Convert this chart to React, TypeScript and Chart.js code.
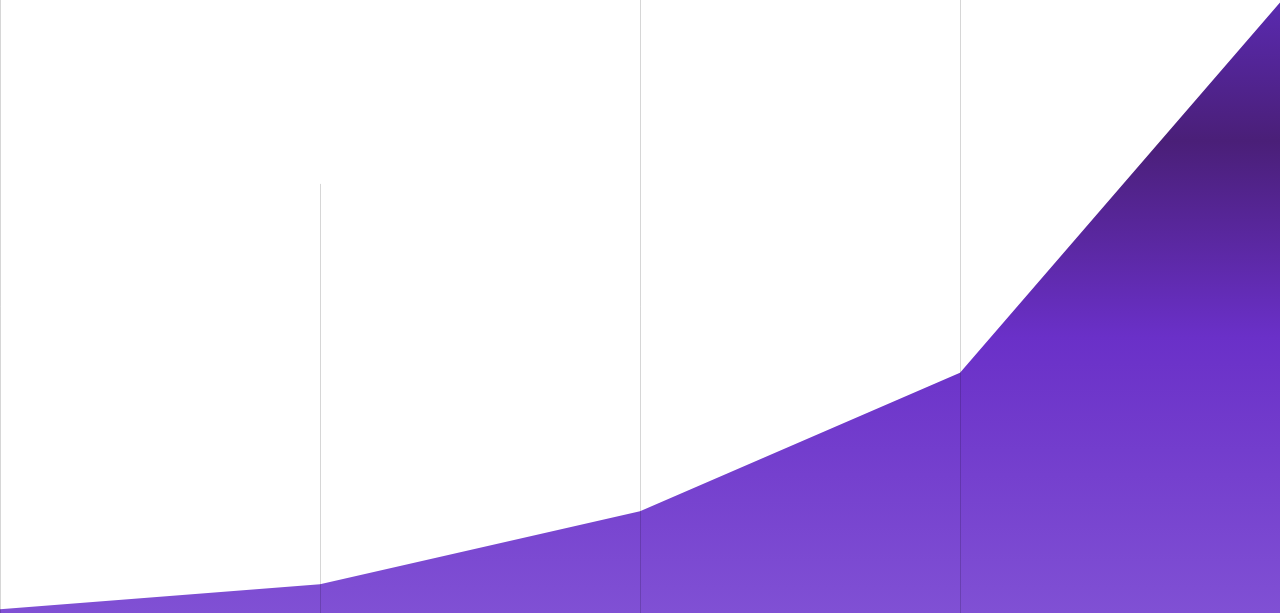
import React, { useEffect, useRef } from 'react';
import { Chart, registerables, ChartOptions, Plugin } from 'chart.js';

Chart.register(...registerables);

const labels = ['P1', 'P2', 'P3', 'P4', 'P5'];
const values = [0.6, 4.7, 16.6, 39.2, 99.6];
// value where each vertical guide line starts (the second one is shorter)
const guideTops = [100, 70, 100, 100, 100];

const guidePlugin: Plugin<'line'> = {
    id: 'guides',
    afterDatasetsDraw(chart) {
        const { ctx, scales } = chart;
        const x = scales.x;
        const y = scales.y;
        ctx.save();
        ctx.strokeStyle = 'rgba(0, 0, 0, 0.16)';
        ctx.lineWidth = 1;
        guideTops.forEach((top, i) => {
            const px = Math.round(x.getPixelForValue(i)) + 0.5;
            ctx.beginPath();
            ctx.moveTo(px, y.getPixelForValue(top));
            ctx.lineTo(px, y.getPixelForValue(0));
            ctx.stroke();
        });
        ctx.restore();
    },
};

const App: React.FC = () => {
    const chartRef = useRef<HTMLCanvasElement | null>(null);
    const chartInstanceRef = useRef<Chart | null>(null);

    useEffect(() => {
        document.body.style.margin = '0';
        if (!chartRef.current) return;
        const ctx = chartRef.current.getContext('2d');
        if (!ctx) return;

        if (chartInstanceRef.current) {
            chartInstanceRef.current.destroy();
        }

        chartInstanceRef.current = new Chart(ctx, {
            type: 'line',
            data: {
                labels,
                datasets: [{
                    data: values,
                    fill: 'origin',
                    borderWidth: 0,
                    pointRadius: 0,
                    tension: 0,
                    backgroundColor: (context) => {
                        const area = context.chart.chartArea;
                        if (!area) return '#6a30c8';
                        const g = context.chart.ctx.createLinearGradient(0, area.top, 0, area.bottom);
                        g.addColorStop(0, '#5a2ab0');
                        g.addColorStop(0.23, '#4a1f78');
                        g.addColorStop(0.55, '#6a30c8');
                        g.addColorStop(1, '#8050d4');
                        return g;
                    },
                }],
            },
            options: {
                animation: false,
                responsive: true,
                maintainAspectRatio: false,
                layout: { padding: 0 },
                plugins: {
                    legend: { display: false },
                    tooltip: { enabled: false },
                },
                scales: {
                    x: { display: false, offset: false },
                    y: { display: false, min: 0, max: 100 },
                },
            } as ChartOptions<'line'>,
            plugins: [guidePlugin],
        });

        return () => {
            if (chartInstanceRef.current) {
                chartInstanceRef.current.destroy();
                chartInstanceRef.current = null;
            }
        };
    }, []);

    return (
        <div style={{ position: 'fixed', inset: 0, background: '#fff' }}>
            <canvas ref={chartRef}></canvas>
        </div>
    );
};

export default App;
